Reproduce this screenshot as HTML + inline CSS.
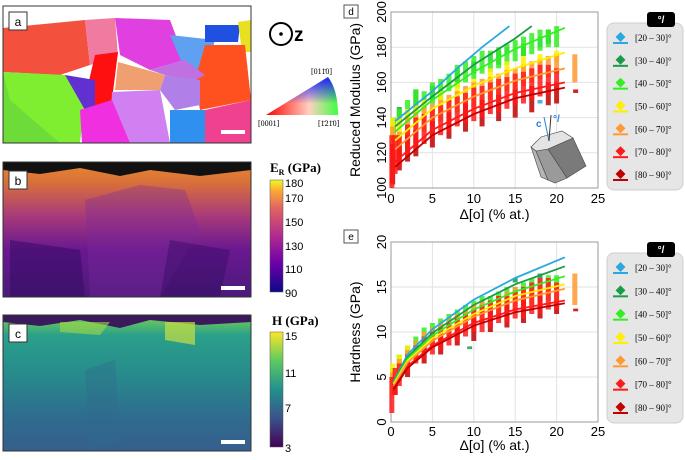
<!DOCTYPE html>
<html><head><meta charset="utf-8"><style>
html,body{margin:0;padding:0;background:#fff;}
svg text{font-family:"Liberation Sans",sans-serif;}
.serif{font-family:"Liberation Serif",serif;}
</style></head><body>
<svg id="fig" width="685" height="455" viewBox="0 0 685 455" xmlns="http://www.w3.org/2000/svg">
<defs>
<linearGradient id="plasma" x1="0" y1="1" x2="0" y2="0">
<stop offset="0" stop-color="#0d0887"/><stop offset="0.25" stop-color="#6a00a8"/><stop offset="0.5" stop-color="#b12a90"/><stop offset="0.75" stop-color="#e16462"/><stop offset="0.9" stop-color="#fca636"/><stop offset="1" stop-color="#f0f921"/></linearGradient>
<linearGradient id="viridis" x1="0" y1="1" x2="0" y2="0">
<stop offset="0" stop-color="#440154"/><stop offset="0.25" stop-color="#3b528b"/><stop offset="0.5" stop-color="#21918c"/><stop offset="0.75" stop-color="#5ec962"/><stop offset="1" stop-color="#fde725"/></linearGradient>
<linearGradient id="bmap" x1="0" y1="0" x2="0" y2="1">
<stop offset="0" stop-color="#e8882e"/><stop offset="0.15" stop-color="#d8703a"/><stop offset="0.4" stop-color="#a83a7a"/><stop offset="0.65" stop-color="#6a1890"/><stop offset="1" stop-color="#4a1a7a"/></linearGradient>
<linearGradient id="cmap" x1="0" y1="0" x2="0" y2="1">
<stop offset="0" stop-color="#7ad050"/><stop offset="0.15" stop-color="#2aa08a"/><stop offset="0.45" stop-color="#278a8c"/><stop offset="0.75" stop-color="#2f6c8e"/><stop offset="1" stop-color="#355f8d"/></linearGradient>
<linearGradient id="ipf1" x1="0" y1="0" x2="1" y2="0"><stop offset="0" stop-color="#ff0000"/><stop offset="0.6" stop-color="#ffd0c0"/><stop offset="1" stop-color="#40ff40"/></linearGradient>
<linearGradient id="ipf2" x1="0" y1="1" x2="0" y2="0"><stop offset="0.3" stop-color="#0000ff" stop-opacity="0"/><stop offset="1" stop-color="#2020ff" stop-opacity="1"/></linearGradient>
</defs>

<g>
<rect x="3" y="6" width="248" height="137" fill="#fff" stroke="#333"/>
<polygon points="3,28 85,20 90,65 60,75 3,72" fill="#f4503e"/>
<polygon points="85,20 115,18 118,55 90,65" fill="#f07aa0"/>
<polygon points="115,18 170,20 185,60 150,70 120,55" fill="#e040e0"/>
<polygon points="170,35 215,40 205,75 185,70" fill="#60a0f0"/>
<polygon points="205,25 240,25 238,42 205,42" fill="#2050e0"/>
<polygon points="238,22 251,20 251,52 242,52" fill="#e8e020"/>
<polygon points="205,45 245,45 251,100 200,110 195,80" fill="#ff5020"/>
<polygon points="150,70 185,60 205,75 195,80 165,75" fill="#c070e0"/>
<polygon points="95,55 118,52 112,100 95,108 88,85" fill="#ff1010"/>
<polygon points="118,62 165,75 160,90 115,90" fill="#f0a070"/>
<polygon points="3,72 65,75 85,100 80,143 3,143" fill="#80ee30"/>
<polygon points="65,75 95,80 95,108 85,110" fill="#6030d0"/>
<polygon points="112,92 160,90 170,143 130,143 110,130" fill="#d080f0"/>
<polygon points="80,110 112,100 130,143 82,143" fill="#f030e0"/>
<polygon points="165,75 200,80 200,105 175,110 160,90" fill="#b080e8"/>
<polygon points="170,110 205,110 205,143 170,143" fill="#3090f0"/>
<polygon points="205,110 251,100 251,143 205,143" fill="#f04090"/>
<polygon points="3,72 3,143 60,143 10,100" fill="#60d040" opacity="0.6"/>
<rect x="3" y="6" width="248" height="137" fill="none" stroke="#333"/>
<rect x="9" y="12" width="18" height="18" fill="#fff" stroke="#333"/>
<text x="18" y="26" font-size="12" text-anchor="middle">a</text>
<rect x="221" y="130" width="24" height="4" fill="#fff"/>
</g>
<g>
<circle cx="281" cy="34" r="11" fill="none" stroke="#000" stroke-width="2"/><circle cx="281" cy="34" r="1.8" fill="#000"/>
<text x="294" y="41" font-size="19" font-weight="bold">z</text>
</g>
<g>
<path d="M266,115 L338,115 Q338,90 328,77 Z" fill="url(#ipf1)"/>
<path d="M266,115 L338,115 Q338,90 328,77 Z" fill="url(#ipf2)"/>
<text x="258" y="126" font-size="8" class="serif">[0001]</text>
<text x="318" y="126" font-size="8" class="serif">[1̄21̄0]</text>
<text x="311" y="74" font-size="8" class="serif">[011̄0]</text>
</g>

<g>
<rect x="3" y="162" width="248" height="135" fill="url(#bmap)" stroke="#333"/>
<path d="M3,162 L251,162 L251,170 L200,176 L150,170 L120,176 L80,168 L40,174 L3,170 Z" fill="#111"/>
<polygon points="85,200 140,185 185,190 200,230 160,297 90,297" fill="#7a2a9a" opacity="0.35"/>
<polygon points="10,240 80,250 85,297 10,297" fill="#300a60" opacity="0.5"/>
<polygon points="170,240 230,250 220,297 160,297" fill="#300a60" opacity="0.4"/>
<rect x="3" y="162" width="248" height="135" fill="none" stroke="#333"/>
<rect x="9" y="171" width="18" height="18" fill="#fff" stroke="#333"/>
<text x="18" y="185" font-size="12" text-anchor="middle">b</text>
<rect x="221" y="286" width="24" height="4" fill="#fff"/>
</g>
<g>
<text x="270" y="172" font-size="13" font-weight="bold" class="serif">E<tspan font-size="8" dy="3">R</tspan><tspan dy="-3"> (GPa)</tspan></text>
<rect x="270" y="180" width="13" height="112" fill="url(#plasma)" stroke="#555" stroke-width="0.5"/>
<g font-size="11" class="serif">
<text x="285" y="187">180</text><text x="285" y="202">170</text><text x="285" y="226">150</text><text x="285" y="250">130</text><text x="285" y="273">110</text><text x="285" y="297">90</text></g>
</g>

<g>
<rect x="3" y="315" width="248" height="136" fill="url(#cmap)" stroke="#333"/>
<path d="M3,315 L251,315 L251,322 L200,325 L150,320 L120,328 L80,320 L40,326 L3,322 Z" fill="#3a1a5a"/>
<polygon points="165,322 195,322 195,345 165,340" fill="#c8e040" opacity="0.7"/>
<polygon points="60,322 110,322 100,335 60,332" fill="#a0d848" opacity="0.6"/>
<polygon points="85,370 115,360 120,440 90,451" fill="#2f6c8e" opacity="0.4"/>
<rect x="3" y="315" width="248" height="136" fill="none" stroke="#333"/>
<rect x="9" y="324" width="18" height="18" fill="#fff" stroke="#333"/>
<text x="18" y="338" font-size="12" text-anchor="middle">c</text>
<rect x="221" y="440" width="24" height="4" fill="#fff"/>
</g>
<g>
<text x="272" y="325" font-size="13" font-weight="bold" class="serif">H (GPa)</text>
<rect x="270" y="332" width="13" height="115" fill="url(#viridis)" stroke="#555" stroke-width="0.5"/>
<g font-size="11" class="serif">
<text x="285" y="340">15</text><text x="285" y="377">11</text><text x="285" y="412">7</text><text x="285" y="452">3</text></g>
</g>

<g id="chartD"></g>
<g id="chartE"></g>
</svg>
<script>
const seriesNames = ["[20 – 30]°","[30 – 40]°","[40 – 50]°","[50 – 60]°","[60 – 70]°","[70 – 80]°","[80 – 90]°"];
const seriesColors = ["#29a9e0","#1a9c48","#33ee22","#ffee00","#ff9933","#ff1a1a","#c00000"];
const xTicks = [0,5,10,15,20,25];
const dYTicks = [100,120,140,160,180,200];
const eYTicks = [0,5,10,15,20];

const dBlue = [[12,172,176],[14,176,180],[18,180,186],[18,148,150]];
const dDkGreen = [[1,138,146],[3,145,156],[5,150,158],[8,160,168],[10,165,172],[13,170,178],[16,175,182],[19,182,190]];
const dGreen = [[0.3,128,140],[1,135,145],[2,140,150],[3,142,156],[4,145,155],[5,148,160],[6,150,162],[7,155,165],[8,157,170],[9,160,172],[10,162,175],[11,165,178],[12,166,178],[13,168,180],[14,170,182],[15,172,184],[16,175,186],[17,176,188],[18,178,190],[19,180,190],[20,180,192]];
const dYellow = [[0.2,118,140],[1,125,140],[2,132,145],[3,135,147],[4,138,150],[6,145,155],[8,150,160],[10,155,162],[12,160,168],[14,163,172],[16,165,175],[18,170,176],[20,172,178]];
const dOrange = [[0.2,110,135],[1,118,132],[2,125,140],[3,130,143],[4,132,146],[5,135,148],[6,138,150],[7,140,153],[8,143,155],[9,145,158],[10,146,160],[11,148,162],[12,150,163],[13,152,165],[14,155,167],[15,156,168],[16,158,170],[17,160,172],[18,162,173],[19,163,175],[20,165,176],[22.2,160,176]];
const dRed = [[0.1,100,130],[0.5,108,130],[1,112,130],[2,118,136],[3,122,140],[4,125,142],[5,128,145],[6,130,147],[7,132,150],[8,135,152],[9,137,154],[10,138,157],[11,140,158],[12,142,160],[13,143,162],[14,145,163],[15,147,165],[16,148,166],[17,150,168],[18,152,170],[19,153,170],[20,155,168]];
const dDkRed = [[0.2,102,125],[1,110,125],[2,115,130],[3,118,133],[5,123,138],[7,128,143],[9,132,148],[11,135,150],[13,138,153],[15,140,156],[17,143,158],[19,147,160],[20,148,160],[22.3,154,156]];
const dLineBlue = [[0.5,138],[5,155],[8,168],[11,180],[14.3,192]];
const dLineDkGreen = [[0.5,135],[5,152],[10,170],[15,185],[17,192]];
const dLineGreen = [[0.5,132],[5,150],[10,166],[15,179],[21,191]];
const dLineYellow = [[0.5,127],[5,145],[10,158],[15,168],[21,177]];
const dLineOrange = [[0.5,122],[5,140],[10,152],[15,161],[21,168]];
const dLineRed = [[0.5,115],[5,133],[10,145],[15,154],[21,160]];
const dLineDkRed = [[0.5,112],[5,130],[10,142],[15,151],[21,157]];

const eDkGreen = [[9.5,8.1,8.4],[15,15.5,16],[18,16,16.5]];
const eGreen = [[0.2,4,6],[1,5.5,7.5],[2,7,8.5],[3,8,9.5],[4,9,10.5],[5,9.5,11],[6,10,11.5],[7,10.5,12],[8,11,12.5],[9,11.5,13],[10,12,13.5],[11,12,14],[12,12.5,14],[13,13,14.5],[14,13,15],[15,13.5,15],[16,14,15.5],[17,14,16],[18,14.5,16],[19,15,16.3],[20,15,16.3]];
const eYellow = [[0.2,5,6.5],[1,6,7.5],[2,7,8.5],[4,8.5,10],[6,9.5,11],[8,10.5,12],[10,11.5,13],[13,12.5,14],[16,13.5,15],[20,14.5,15.5]];
const eOrange = [[0.2,3,5.5],[1,4.5,7],[2,6,8],[3,7,9],[4,8,10],[5,8.5,10.5],[6,9,11],[7,9.5,11.5],[8,10,12],[9,10.5,12.5],[10,11,13],[11,11,13.5],[12,11.5,13.5],[13,12,14],[14,12,14.5],[15,12.5,15],[16,13,15],[17,13,15.5],[18,13.5,15.5],[19,13.5,16],[20,13.5,15.5],[22.2,13,16.5]];
const eRed = [[0.1,1,5],[0.5,3,6],[1,4,6.5],[2,5.5,7.5],[3,6.5,8.5],[4,7,9.5],[5,7.5,10],[6,8,10.5],[7,8.5,11],[8,9,11.5],[9,9.5,12],[10,10,12.5],[11,10,13],[12,10.5,13.5],[13,11,14],[14,11,14],[15,11.5,14.5],[16,11.5,15],[17,12,15.5],[18,12,16],[19,12.5,16],[20,12.5,15.5]];
const eDkRed = [[0.5,3,5],[2,5,7],[4,6.5,8.5],[6,7.5,9.5],[8,8.5,10.5],[10,9,11.5],[12,10,12.5],[14,10.5,13],[16,11,13.5],[18,11.5,14],[20,12,13.5],[22.3,12.3,12.6]];
const eLineBlue = [[0.3,4.5],[2,7.5],[5,10.3],[10,13.6],[15,16],[21,18.3]];
const eLineDkGreen = [[0.3,4.4],[2,7.2],[5,9.9],[10,13],[15,15.3],[21,17.3]];
const eLineGreen = [[0.3,4.3],[2,7],[5,9.6],[10,12.5],[15,14.5],[21,16.2]];
const eLineYellow = [[0.3,4.2],[2,6.8],[5,9.3],[10,12],[15,14],[21,15.3]];
const eLineOrange = [[0.3,4],[2,6.6],[5,9],[10,11.7],[15,13.5],[21,14.8]];
const eLineRed = [[0.3,3.7],[2,6.2],[5,8.5],[10,11],[15,12.5],[21,13.5]];
const eLineDkRed = [[0.3,3.6],[2,6],[5,8.3],[10,10.7],[15,12.2],[21,13.2]];

const NS = "http://www.w3.org/2000/svg";
function mk(tag, attrs, parent){ const e=document.createElementNS(NS,tag); for(const k in attrs) e.setAttribute(k,attrs[k]); parent.appendChild(e); return e; }

function drawChart(g, cfg){
  const {x0,x1,y0,y1,ymin,ymax,yTicks,streaks,lines,ytitle,label,lx,ly,legTop,legBot,tickDy,titleDy} = cfg;
  const sx = v => x0 + (v-0)/(25-0)*(x1-x0);
  const sy = v => y0 - (v-ymin)/(ymax-ymin)*(y0-y1);
  mk('rect',{x:x0,y:y1,width:x1-x0,height:y0-y1,fill:'#fff'},g);
  for(const t of xTicks){ const l=mk('line',{x1:sx(t),x2:sx(t),y1:y1,y2:y0,stroke:'#e2e2e2'},g);
     
    const tx=mk('text',{x:sx(t),y:y0+tickDy,'font-size':13,'text-anchor':'middle'},g); tx.textContent=t;
      }
  for(const t of yTicks){ const l=mk('line',{x1:x0,x2:x1,y1:sy(t),y2:sy(t),stroke:'#e2e2e2'},g);
     
    const tx=mk('text',{x:x0-5,y:sy(t),'font-size':13,'text-anchor':'middle',transform:`rotate(-90 ${x0-5} ${sy(t)})`},g); tx.textContent=t;
      }
  mk('rect',{x:x0,y:y1,width:x1-x0,height:y0-y1,fill:'none',stroke:'#9a9a9a'},g);
  streaks.forEach(s=>{ for(const p of s.data){ const r=mk('rect',{x:sx(p[0])-2.5,y:sy(p[2]),width:5,height:Math.max(1.5,sy(p[1])-sy(p[2])),fill:s.color,opacity:0.85},g);
      } });
  lines.forEach(s=>{ const p=mk('polyline',{points:s.data.map(q=>sx(q[0])+','+sy(q[1])).join(' '),fill:'none',stroke:s.color,'stroke-width':1.8},g);
      });
  const tt=mk('text',{x:(x0+x1)/2,y:y0+titleDy,'font-size':14,'text-anchor':'middle'},g); tt.textContent='Δ[o] (% at.)';
   
  const yt=mk('text',{x:360,y:(y0+y1)/2,'font-size':14,'text-anchor':'middle',transform:`rotate(-90 360 ${(y0+y1)/2})`},g); yt.textContent=ytitle;
   
  const lb=mk('rect',{x:lx,y:ly,width:14,height:13,fill:'#fff',stroke:'#555'},g);
   
  const lt=mk('text',{x:lx+7,y:ly+10,'font-size':10,'text-anchor':'middle'},g); lt.textContent=label;
  const lg=mk('g',{},g);  
  mk('rect',{x:607,y:legTop,width:76,height:legBot-legTop,rx:7,fill:'#e6e6e6',stroke:'#cfcfcf'},lg);
  mk('rect',{x:647,y:legTop-11,width:28,height:15,rx:3,fill:'#000'},lg);
  const tg=mk('text',{x:661,y:legTop,'font-size':10,'font-weight':'bold',fill:'#fff','text-anchor':'middle'},lg); tg.textContent='°/';
  const step=(legBot-legTop-30)/6;
  seriesNames.forEach((n,i)=>{ const yy=legTop+14+i*step;
    const e=mk('g',{},lg);  
    mk('rect',{x:617,y:yy-3.5,width:7,height:7,fill:seriesColors[i],transform:`rotate(45 620.5 ${yy})`},e);
    mk('line',{x1:613,x2:628,y1:yy+6,y2:yy+6,stroke:seriesColors[i],'stroke-width':2},e);
    const t=mk('text',{x:635,y:yy+4,'font-size':9,'class':'serif'},e); t.textContent=n; });
}

drawChart(document.getElementById('chartD'),{x0:391,x1:598,y0:188,y1:12,ymin:100,ymax:200,yTicks:dYTicks,tickDy:15,titleDy:31,
  streaks:[{data:dBlue,color:seriesColors[0]},{data:dDkGreen,color:seriesColors[1]},{data:dGreen,color:seriesColors[2]},{data:dYellow,color:seriesColors[3]},{data:dOrange,color:seriesColors[4]},{data:dDkRed,color:seriesColors[6]},{data:dRed,color:seriesColors[5]}],
  lines:[{data:dLineBlue,color:seriesColors[0]},{data:dLineDkGreen,color:seriesColors[1]},{data:dLineGreen,color:seriesColors[2]},{data:dLineYellow,color:seriesColors[3]},{data:dLineOrange,color:seriesColors[4]},{data:dLineRed,color:seriesColors[5]},{data:dLineDkRed,color:seriesColors[6]}],
  ytitle:'Reduced Modulus (GPa)',label:'d',lx:344,ly:5,legTop:23,legBot:190});
drawChart(document.getElementById('chartE'),{x0:391,x1:598,y0:422,y1:242,ymin:0,ymax:20,yTicks:eYTicks,tickDy:14,titleDy:28,
  streaks:[{data:eDkGreen,color:seriesColors[1]},{data:eGreen,color:seriesColors[2]},{data:eYellow,color:seriesColors[3]},{data:eOrange,color:seriesColors[4]},{data:eDkRed,color:seriesColors[6]},{data:eRed,color:seriesColors[5]}],
  lines:[{data:eLineBlue,color:seriesColors[0]},{data:eLineDkGreen,color:seriesColors[1]},{data:eLineGreen,color:seriesColors[2]},{data:eLineYellow,color:seriesColors[3]},{data:eLineOrange,color:seriesColors[4]},{data:eLineRed,color:seriesColors[5]},{data:eLineDkRed,color:seriesColors[6]}],
  ytitle:'Hardness (GPa)',label:'e',lx:344,ly:230,legTop:253,legBot:423});

const svg=document.getElementById('chartD');
const hx=mk('g',{},svg);


mk('polygon',{points:'531,147 536,151 548,180 541,177',fill:'#b5b5b5',stroke:'#444','stroke-width':0.6},hx);
mk('polygon',{points:'536,151 548,149 567,178 555,183 548,180',fill:'#9a9a9a',stroke:'#444','stroke-width':0.6},hx);
mk('polygon',{points:'548,149 573,138 586,166 567,178',fill:'#7a7a7a',stroke:'#444','stroke-width':0.6},hx);
mk('polygon',{points:'531,147 541,137 562,131 573,138 548,149 536,151',fill:'#e4e4e4',stroke:'#444','stroke-width':0.6},hx);
mk('line',{x1:549,y1:141,x2:544,y2:117,stroke:'#2a7fd0','stroke-width':1},hx);
mk('line',{x1:549,y1:141,x2:551,y2:115,stroke:'#333','stroke-width':1},hx);
const ct=mk('text',{x:536,y:127,'font-size':10,'font-weight':'bold',fill:'#2a7fd0'},hx); ct.textContent='c';
const at=mk('text',{x:553,y:122,'font-size':10,'font-weight':'bold',fill:'#2a7fd0'},hx); at.textContent='°/';
</script>
</body></html>
